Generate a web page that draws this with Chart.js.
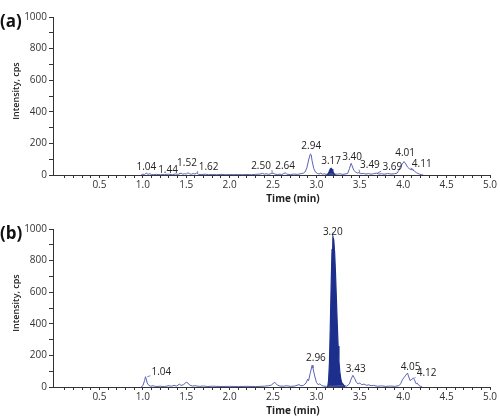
<!DOCTYPE html>
<html lang="en">
<head>
  <meta charset="UTF-8" />
  <title>Chromatograms (a) and (b)</title>
  <script src="https://cdn.jsdelivr.net/npm/chart.js"></script>
  <style>
    body { margin: 0; background: #fff; }
    canvas { display: block; }
  </style>
</head>
<body>
  <canvas id="chartA" width="500" height="208"></canvas>
  <canvas id="chartB" width="500" height="208"></canvas>

  <script>
    // ---- data (time in min, intensity in cps) ----
    const timeA = [0.98, 1.00, 1.02, 1.04, 1.06, 1.08, 1.10, 1.12, 1.16, 1.20, 1.25, 1.30, 1.34, 1.38, 1.41, 1.44, 1.46, 1.48, 1.50, 1.52, 1.54, 1.56, 1.58, 1.60, 1.62, 1.64, 1.68, 1.72, 1.76, 1.80, 1.85, 1.90, 1.95, 2.00, 2.05, 2.10, 2.15, 2.20, 2.25, 2.30, 2.35, 2.38, 2.40, 2.42, 2.45, 2.48, 2.50, 2.52, 2.55, 2.58, 2.60, 2.62, 2.64, 2.66, 2.70, 2.74, 2.78, 2.82, 2.85, 2.87, 2.89, 2.91, 2.93, 2.94, 2.95, 2.97, 2.99, 3.01, 3.03, 3.05, 3.07, 3.09, 3.11, 3.13, 3.22, 3.24, 3.27, 3.30, 3.33, 3.36, 3.38, 3.40, 3.41, 3.43, 3.45, 3.47, 3.49, 3.51, 3.54, 3.57, 3.60, 3.63, 3.66, 3.69, 3.72, 3.75, 3.78, 3.82, 3.86, 3.90, 3.93, 3.95, 3.97, 3.99, 4.01, 4.03, 4.05, 4.07, 4.09, 4.11, 4.13, 4.15, 4.17, 4.19, 4.21, 4.23];
    const cpsA  = [0, 5, 3, 12, 4, 8, 3, 2, 4, 2, 3, 5, 2, 6, 4, 12, 5, 8, 6, 14, 7, 5, 9, 6, 12, 4, 3, 5, 2, 3, 2, 4, 2, 3, 2, 3, 2, 3, 2, 4, 6, 10, 5, 8, 4, 9, 12, 6, 3, 5, 3, 8, 14, 5, 3, 6, 4, 8, 12, 20, 45, 95, 133, 128, 90, 40, 18, 10, 6, 12, 5, 8, 4, 6, 6, 5, 8, 4, 6, 10, 40, 74, 60, 30, 20, 12, 15, 8, 10, 6, 9, 5, 8, 12, 6, 8, 5, 9, 6, 8, 12, 30, 55, 70, 85, 70, 50, 40, 35, 32, 25, 15, 10, 5, 2, 0];
    const peakTimeA = [3.12, 3.13, 3.14, 3.15, 3.16, 3.17, 3.18, 3.19, 3.20, 3.21, 3.22];
    const peakCpsA  = [0, 4, 12, 26, 38, 42, 36, 22, 11, 4, 0];
    const labelsA = ['1.04', '1.44', '1.52', '1.62', '2.50', '2.64', '2.94', '3.17', '3.40', '3.49', '3.69', '4.01', '4.11'];
    const labelCpsA = [12, 12, 14, 12, 12, 14, 133, 42, 74, 15, 12, 85, 32];

    const timeB = [0.98, 1.00, 1.02, 1.03, 1.04, 1.05, 1.07, 1.09, 1.12, 1.15, 1.20, 1.25, 1.30, 1.33, 1.36, 1.39, 1.42, 1.44, 1.47, 1.50, 1.52, 1.54, 1.57, 1.60, 1.65, 1.70, 1.75, 1.80, 1.90, 2.00, 2.10, 2.20, 2.30, 2.40, 2.45, 2.48, 2.52, 2.55, 2.58, 2.62, 2.66, 2.70, 2.75, 2.80, 2.82, 2.85, 2.88, 2.90, 2.91, 2.93, 2.95, 2.96, 2.98, 3.00, 3.02, 3.04, 3.06, 3.08, 3.10, 3.12, 3.33, 3.35, 3.38, 3.40, 3.42, 3.44, 3.46, 3.48, 3.50, 3.52, 3.55, 3.58, 3.60, 3.63, 3.66, 3.70, 3.75, 3.80, 3.85, 3.90, 3.95, 3.97, 3.99, 4.01, 4.03, 4.05, 4.06, 4.08, 4.10, 4.12, 4.13, 4.15, 4.16, 4.18, 4.20, 4.22];
    const cpsB  = [0, 8, 40, 65, 50, 25, 10, 5, 8, 3, 5, 3, 8, 5, 10, 6, 18, 10, 15, 30, 25, 12, 6, 8, 4, 6, 3, 5, 3, 4, 3, 4, 3, 5, 8, 12, 30, 12, 6, 5, 8, 4, 6, 15, 8, 10, 25, 50, 40, 90, 137, 120, 70, 30, 15, 20, 10, 6, 5, 4, 8, 5, 20, 50, 74, 55, 30, 20, 25, 15, 18, 10, 14, 8, 10, 5, 7, 4, 6, 4, 8, 20, 45, 60, 75, 88, 70, 40, 50, 57, 45, 20, 25, 10, 4, 0];
    const peakTimeB = [3.13, 3.14, 3.15, 3.16, 3.17, 3.18, 3.19, 3.20, 3.21, 3.22, 3.23, 3.24, 3.25, 3.26, 3.27, 3.28, 3.29, 3.31, 3.33];
    const peakCpsB  = [0, 40, 150, 380, 650, 870, 951, 930, 850, 720, 560, 400, 260, 160, 95, 55, 30, 15, 0];
    const labelsB = ['1.04', '2.96', '3.20', '3.43', '4.05', '4.12'];
    const labelCpsB = [65, 137, 951, 74, 88, 57];

    const xTickLabels = ['0.5', '1.0', '1.5', '2.0', '2.5', '3.0', '3.5', '4.0', '4.5', '5.0'];
    const yTickLabels = ['0', '200', '400', '600', '800', '1000'];

    // label offsets in px from the peak apex [dx, dy]
    const offsetsA = [[0, -6], [-13, -3], [-1, -10], [12, -6], [-12, -7], [0, -7], [0, -8], [0, -7], [1, -6], [11, -7], [16, -6], [1, -8], [9, -6]];
    const offsetsB = [[15, -5], [3, -7], [-1, -5], [2, -6], [3, -6], [13, -5]];

    const lineColor = '#5b63b5';
    const fillColor = '#1c2f8c';
    const axisColor = '#333';
    const font = "'Open Sans', 'Noto Sans', sans-serif";

    function pts(xs, ys) {
      return xs.map((x, i) => ({ x: x, y: ys[i] }));
    }

    // fills the area under dataset 0 from the points Chart.js placed
    const peakFill = {
      id: 'peakFill',
      beforeDatasetsDraw(chart) {
        const meta = chart.getDatasetMeta(0);
        const base = chart.scales.y.getPixelForValue(0);
        const ctx = chart.ctx;
        ctx.save();
        ctx.fillStyle = fillColor;
        ctx.beginPath();
        meta.data.forEach((p, i) => {
          if (i === 0) ctx.moveTo(p.x, base);
          ctx.lineTo(p.x, p.y);
        });
        ctx.lineTo(meta.data[meta.data.length - 1].x, base);
        ctx.closePath();
        ctx.fill();
        ctx.restore();
      }
    };

    const annot = {
      id: 'annot',
      afterDatasetsDraw(chart) {
        const o = chart.options.plugins.annot;
        const ctx = chart.ctx;
        const xs = chart.scales.x, ys = chart.scales.y;
        ctx.save();
        ctx.fillStyle = '#222';
        ctx.strokeStyle = lineColor;
        ctx.lineWidth = 0.8;
        ctx.font = '10px ' + font;
        ctx.textAlign = 'center';
        ctx.textBaseline = 'middle';
        o.labels.forEach((t, i) => {
          const px = xs.getPixelForValue(parseFloat(t));
          const py = ys.getPixelForValue(o.heights[i]);
          const [dx, dy] = o.offsets[i];
          ctx.fillText(t, px + dx, py + dy);
          if (Math.abs(dx) >= 8) {
            const sx = dx > 0 ? px + dx - 11 : px + dx + 11;
            ctx.beginPath();
            ctx.moveTo(sx, py + dy + 4);
            ctx.lineTo(px + (dx > 0 ? 1 : -1), py);
            ctx.stroke();
          }
        });
        // panel letter
        ctx.textAlign = 'left';
        ctx.font = 'bold 17px ' + font;
        ctx.fillStyle = '#111';
        ctx.fillText(o.panel, 0, ys.getPixelForValue(1000) + 5);
        // axis titles
        ctx.font = 'bold 10px ' + font;
        ctx.textAlign = 'center';
        ctx.fillStyle = '#222';
        ctx.fillText('Time (min)', xs.getPixelForValue(2.73), ys.bottom + 24);
        ctx.translate(16, (ys.top + ys.bottom) / 2 - 5);
        ctx.rotate(-Math.PI / 2);
        ctx.font = '600 9px ' + font;
        ctx.fillText('Intensity, cps', 0, 0);
        ctx.restore();
      }
    };

    function makeChart(id, tx, ty, ptx, pty, labels, heights, offsets, panel, padTop) {
      return new Chart(document.getElementById(id), {
        type: 'line',
        data: {
          datasets: [
            {
              data: pts(ptx, pty),
              borderColor: fillColor,
              borderWidth: 1.2,
              pointRadius: 0,
              fill: false,
              tension: 0
            },
            {
              data: pts(tx, ty),
              borderColor: lineColor,
              borderWidth: 1,
              pointRadius: 0,
              fill: false,
              tension: 0
            }
          ]
        },
        options: {
          responsive: false,
          animation: false,
          devicePixelRatio: 1,
          layout: { padding: { top: padTop, right: 10, left: 0, bottom: 0 } },
          plugins: {
            legend: { display: false },
            tooltip: { enabled: false },
            annot: { labels: labels, heights: heights, offsets: offsets, panel: panel }
          },
          scales: {
            x: {
              type: 'linear',
              min: -0.035,
              max: 5.0,
              afterFit(s) { s.height = 208 - padTop - 158; },
              afterBuildTicks(s) {
                const t = [];
                for (let i = 1; i <= 50; i++) t.push({ value: i / 10 });
                s.ticks = t;
              },
              ticks: {
                autoSkip: false,
                maxRotation: 0,
                padding: 1,
                color: '#333',
                font: { family: font, size: 10 },
                callback(v) {
                  const k = Math.round(v * 10);
                  return k % 5 === 0 ? xTickLabels[k / 5 - 1] : '';
                }
              },
              grid: { drawOnChartArea: false, tickLength: 3, tickColor: axisColor },
              border: { color: axisColor, width: 1 }
            },
            y: {
              min: 0,
              max: 1000,
              afterFit(s) { s.width = 53; },
              ticks: {
                stepSize: 100,
                padding: 2,
                color: '#333',
                font: { family: font, size: 10 },
                callback(v) {
                  return v % 200 === 0 ? yTickLabels[v / 200] : '';
                }
              },
              grid: { drawOnChartArea: false, tickLength: 4, tickColor: axisColor },
              border: { color: axisColor, width: 1 }
            }
          }
        },
        plugins: [peakFill, annot]
      });
    }

    makeChart('chartA', timeA, cpsA, peakTimeA, peakCpsA, labelsA, labelCpsA, offsetsA, '(a)', 17);
    makeChart('chartB', timeB, cpsB, peakTimeB, peakCpsB, labelsB, labelCpsB, offsetsB, '(b)', 21);
  </script>
</body>
</html>
